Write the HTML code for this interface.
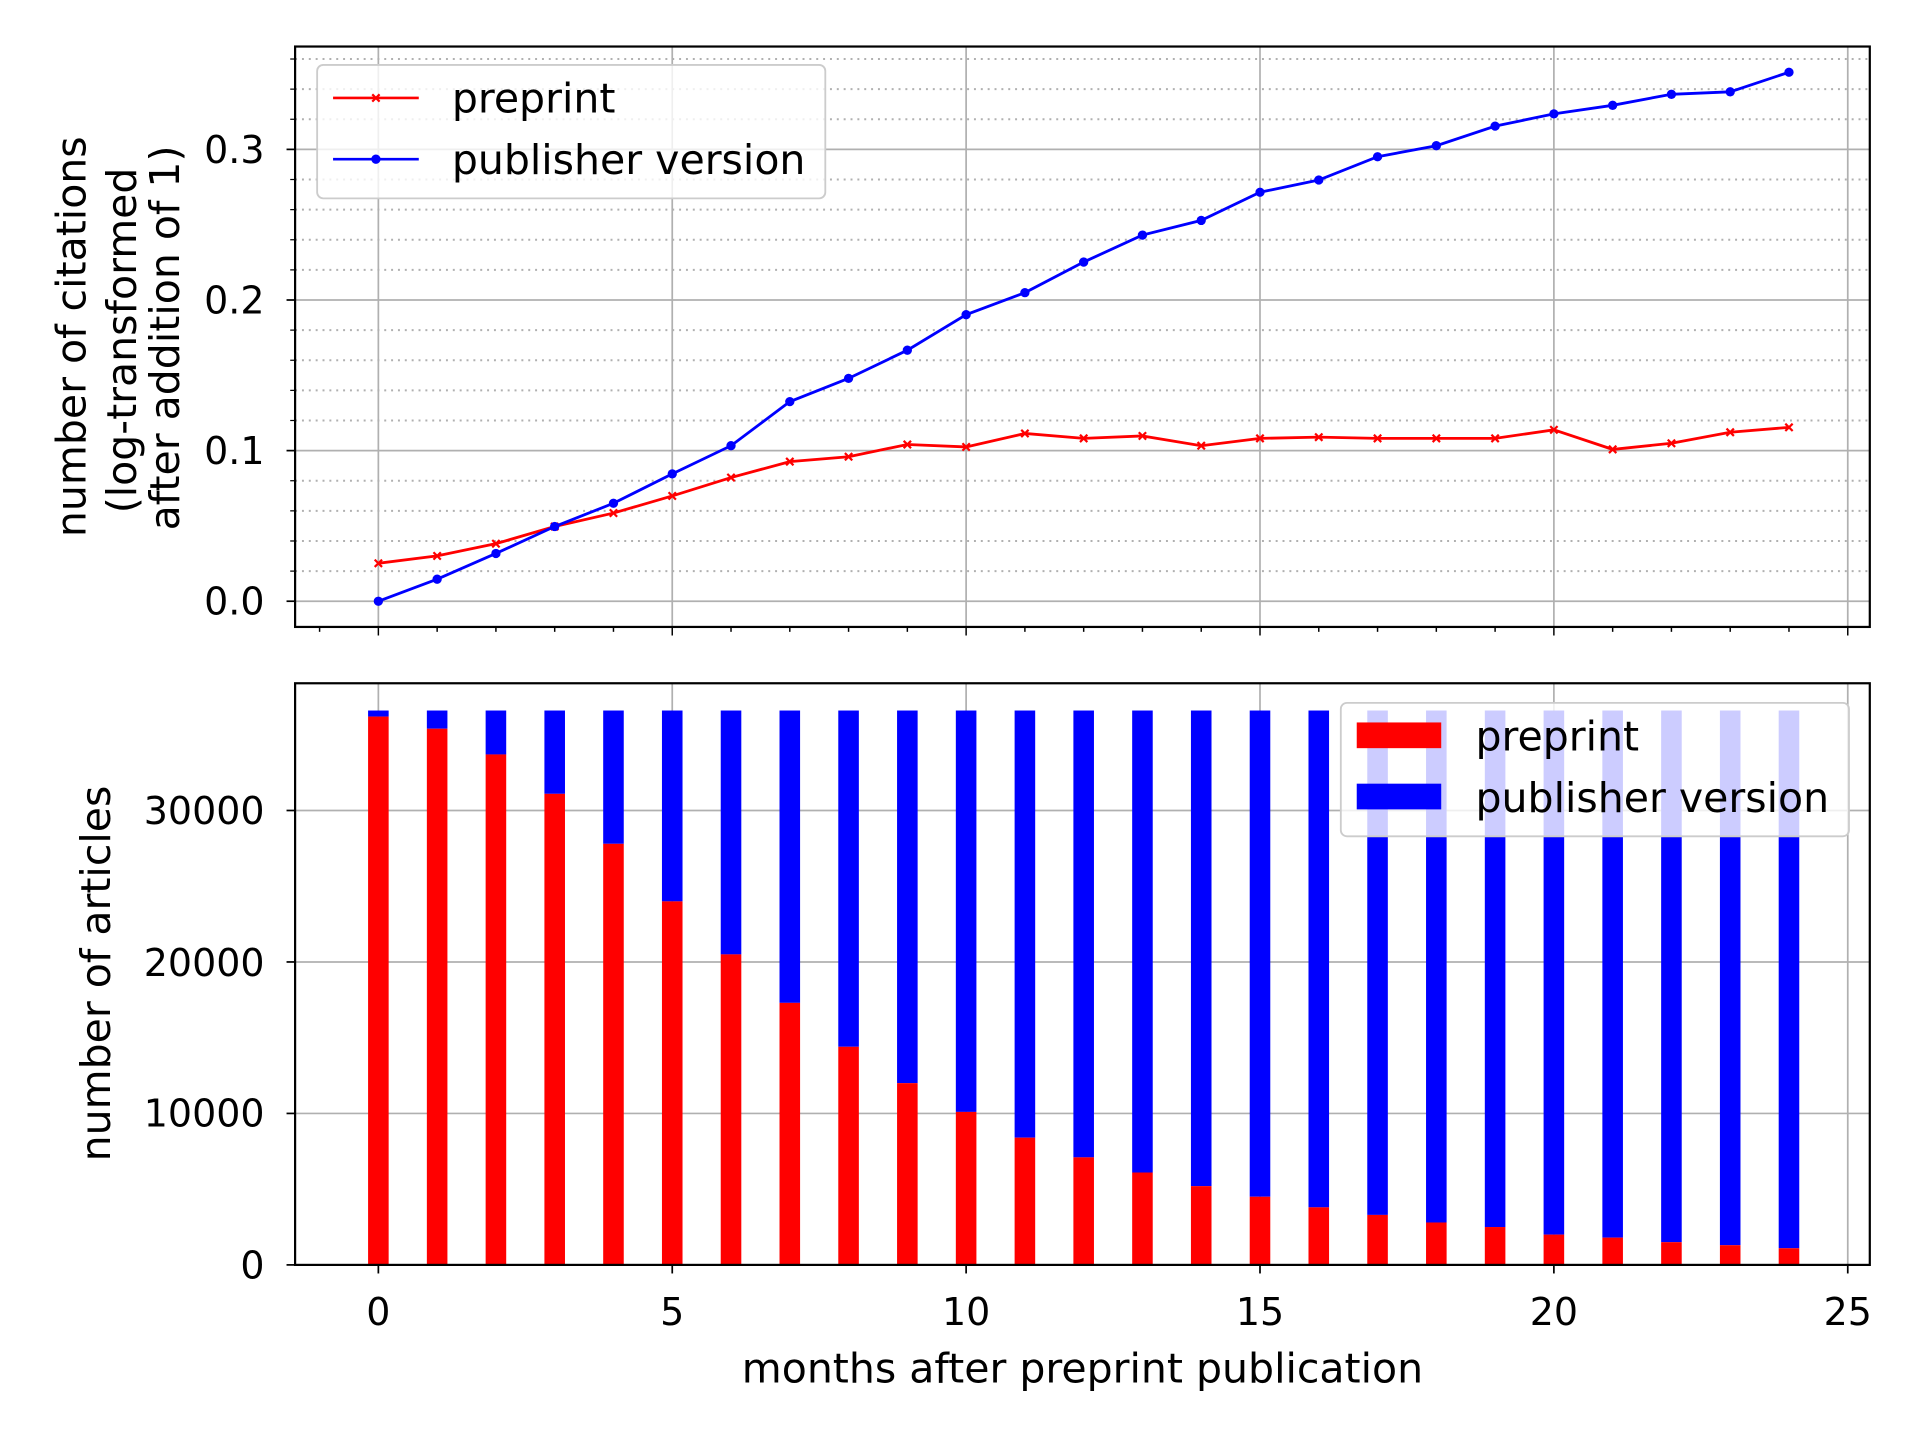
<!DOCTYPE html>
<html><head><meta charset="utf-8"><style>
html,body{margin:0;padding:0;background:#fff;}
svg{display:block;font-family:"DejaVu Sans","Liberation Sans",sans-serif;}
</style></head><body>
<svg id="s" xmlns="http://www.w3.org/2000/svg" width="1920" height="1440" viewBox="0 0 1568 1176">
<rect width="1568" height="1176" fill="#fff"/>
<g id="g1"></g>
<g id="g2"></g>
<g font-size="31" fill="#000" text-anchor="end">
<text x="216" y="502">0.0</text>
<text x="216" y="379">0.1</text>
<text x="216" y="256">0.2</text>
<text x="216" y="133">0.3</text>
<text x="216" y="1044">0</text>
<text x="216" y="920">10000</text>
<text x="216" y="797">20000</text>
<text x="216" y="673">30000</text>
</g>
<g font-size="31" fill="#000" text-anchor="middle">
<text x="309" y="1082">0</text>
<text x="549" y="1082">5</text>
<text x="789" y="1082">10</text>
<text x="1029" y="1082">15</text>
<text x="1269" y="1082">20</text>
<text x="1509" y="1082">25</text>
</g>
<g font-size="33.5" fill="#000" text-anchor="middle">
<text x="884" y="1129">months after preprint publication</text>
<text transform="translate(70,275) rotate(-90)">number of citations</text>
<text transform="translate(111,278) rotate(-90)">(log-transformed</text>
<text transform="translate(146,276) rotate(-90)">after addition of 1)</text>
<text transform="translate(90,795) rotate(-90)">number of articles</text>
</g>
<rect x="259" y="53" width="415" height="109" rx="5" fill="#fff" fill-opacity="0.8" stroke="#ccc" stroke-width="1.5"/>
<line x1="272" y1="80" x2="342" y2="80" stroke="#f00" stroke-width="2.2"/>
<path d="M304 77L310 83M304 83L310 77" stroke="#f00" stroke-width="1.8"/>
<line x1="272" y1="130" x2="342" y2="130" stroke="#00f" stroke-width="2.2"/>
<circle cx="307" cy="130" r="3.8" fill="#00f"/>
<text x="369" y="92" font-size="33.5">preprint</text>
<text x="369" y="142" font-size="33.5">publisher version</text>
<rect x="1095" y="574" width="415" height="109" rx="5" fill="#fff" fill-opacity="0.8" stroke="#ccc" stroke-width="1.5"/>
<rect x="1108" y="590" width="69" height="21" fill="#f00"/>
<rect x="1108" y="640" width="69" height="21" fill="#00f"/>
<text x="1205" y="613" font-size="33.5">preprint</text>
<text x="1205" y="663" font-size="33.5">publisher version</text>
</svg>
<script>
var NS="http://www.w3.org/2000/svg";
function el(p,t,a){var e=document.createElementNS(NS,t);for(var k in a)e.setAttribute(k,a[k]);p.appendChild(e);return e;}
var g1=document.getElementById('g1'),g2=document.getElementById('g2');
function X(i){return 309+48*i;}
var L=241,R=1527,T=38,B=512;
for(var n=1;n<19;n++){if(n%5==0)continue;var y=491-24.6*n;
el(g1,'line',{x1:L,x2:R,y1:y,y2:y,stroke:'#b0b0b0','stroke-width':1.6,'stroke-dasharray':'1.6,4'});
el(g1,'line',{x1:L-4,x2:L,y1:y,y2:y,stroke:'#000','stroke-width':1});}
for(var k=0;k<4;k++){var y=491-123*k;el(g1,'line',{x1:L,x2:R,y1:y,y2:y,stroke:'#b0b0b0','stroke-width':1.4});
el(g1,'line',{x1:L-7,x2:L,y1:y,y2:y,stroke:'#000','stroke-width':1.4});}
for(var k=0;k<=5;k++){var x=X(5*k);el(g1,'line',{x1:x,x2:x,y1:T,y2:B,stroke:'#b0b0b0','stroke-width':1.4});}
for(var i=-1;i<=25;i++){var x=X(i);el(g1,'line',{x1:x,x2:x,y1:B,y2:B+(i%5==0?7:4),stroke:'#000','stroke-width':1.2});}
var blue=[491,473,452,430,411,387,364,328,309,286,257,239,214,192,180,157,147,128,119,103,93,86,77,75,59];
var red=[460,454,444,430,419,405,390,377,373,363,365,354,358,356,364,358,357,358,358,358,351,367,362,353,349];
function poly(d,c){var p=d.map(function(y,i){return X(i)+','+y}).join(' ');el(g1,'polyline',{points:p,fill:'none',stroke:c,'stroke-width':2.3});}
poly(red,'#f00');
red.forEach(function(y,i){var x=X(i);el(g1,'path',{d:'M'+(x-3)+' '+(y-3)+'L'+(x+3)+' '+(y+3)+'M'+(x-3)+' '+(y+3)+'L'+(x+3)+' '+(y-3),stroke:'#f00','stroke-width':1.8});});
poly(blue,'#00f');
blue.forEach(function(y,i){el(g1,'circle',{cx:X(i),cy:y,r:3.8,fill:'#00f'});});
el(g1,'rect',{x:L,y:T,width:R-L,height:B-T,fill:'none',stroke:'#000','stroke-width':1.8});
var T2=558,B2=1033;
for(var k=0;k<4;k++){var y=1033-123.7*k;el(g2,'line',{x1:L,x2:R,y1:y,y2:y,stroke:'#b0b0b0','stroke-width':1.4});
el(g2,'line',{x1:L-7,x2:L,y1:y,y2:y,stroke:'#000','stroke-width':1.4});}
for(var k=0;k<=5;k++){var x=X(5*k);el(g2,'line',{x1:x,x2:x,y1:T2,y2:B2,stroke:'#b0b0b0','stroke-width':1.4});
el(g2,'line',{x1:x,x2:x,y1:B2,y2:B2+7,stroke:'#000','stroke-width':1.4});}
var pre=[36200,35400,33700,31100,27800,24000,20500,17300,14400,12000,10100,8400,7100,6100,5200,4500,3800,3300,2800,2500,2000,1800,1500,1300,1100];
var tot=36600;function Y2(v){return 1033-v*0.01237;}
pre.forEach(function(v,i){var x=X(i)-8.4;
el(g2,'rect',{x:x,y:Y2(tot),width:16.8,height:Y2(v)-Y2(tot),fill:'#00f'});
el(g2,'rect',{x:x,y:Y2(v),width:16.8,height:B2-Y2(v),fill:'#f00'});});
el(g2,'rect',{x:L,y:T2,width:R-L,height:B2-T2,fill:'none',stroke:'#000','stroke-width':1.8});
</script>
</body></html>
